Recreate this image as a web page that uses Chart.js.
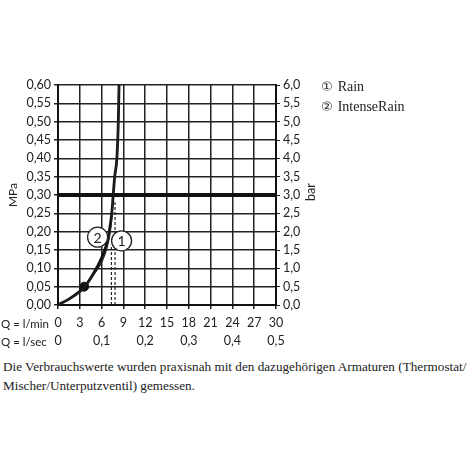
<!DOCTYPE html>
<html lang="de">
<head>
<meta charset="UTF-8">
<title>Durchfluss Diagramm</title>
<script src="https://cdn.jsdelivr.net/npm/chart.js"></script>
<style>
    body { margin: 0; background: #fff; width: 470px; height: 470px; position: relative; overflow: hidden; }
    #wrap { position: absolute; left: 0; top: 0; width: 470px; height: 355px; }
    .legend { position: absolute; left: 321px; font-family: "Liberation Serif", serif; font-size: 14px; color: #222; }
    .legend .num { font-family: "DejaVu Sans", sans-serif; font-size: 13px; margin-right: 5px; }
    #note { position: absolute; left: 3px; top: 357px; width: 468px; font-family: "Liberation Serif", serif; font-size: 13.2px; line-height: 19px; color: #222; }
</style>
</head>
<body>
<div id="wrap"><canvas id="chart" width="470" height="355"></canvas></div>
<div class="legend" style="top:79px"><span class="num">①</span>Rain</div>
<div class="legend" style="top:99px"><span class="num">②</span>IntenseRain</div>
<div id="note">Die Verbrauchswerte wurden praxisnah mit den dazugehörigen Armaturen (Thermostat/<br>Mischer/Unterputzventil) gemessen.</div>

<script>
// flow in l/min, pressure in MPa
const rainQ = [0, 1.5, 3, 3.7, 5, 6.1, 6.8, 7.2, 7.45, 7.6, 7.8, 8.1, 8.3, 8.4];
const rainP = [0, 0.015, 0.035, 0.05, 0.085, 0.12, 0.16, 0.2, 0.25, 0.3, 0.35, 0.4, 0.5, 0.6];
const intenseQ = [0, 1.5, 3, 3.7, 5, 5.8, 6.6, 7.05, 7.4, 7.6, 7.8, 8.1, 8.3, 8.4];
const intenseP = [0, 0.016, 0.037, 0.05, 0.09, 0.12, 0.16, 0.2, 0.25, 0.3, 0.35, 0.4, 0.5, 0.6];
const refPressure = 0.30;
const markQ = 3.6, markP = 0.05;
const dashRainQ = 7.85, dashRainTop = 0.28;
const dashIntenseQ = 7.35, dashIntenseTop = 0.16;
const xTicksMin = [0, 3, 6, 9, 12, 15, 18, 21, 24, 27, 30];
const xTicksSec = ['0', '', '0,1', '', '0,2', '', '0,3', '', '0,4', '', '0,5'];
const labels = [
    { text: '2', q: 5.45, p: 0.185 },
    { text: '1', q: 8.75, p: 0.175 }
];

const FONT = 'Lato, "Open Sans", sans-serif';
const toPts = (xs, ys) => xs.map((x, i) => ({ x: x, y: ys[i] }));

// extras: row titles, bar title, circled curve labels
const extras = {
    id: 'extras',
    afterDraw(chart) {
        const ctx = chart.ctx;
        const xs = chart.scales.x, ys = chart.scales.y;
        ctx.save();
        ctx.fillStyle = '#222';
        ctx.font = '11.5px ' + FONT;
        ctx.textAlign = 'left';
        ctx.textBaseline = 'middle';
        ctx.fillText('Q = l/min', 1, 324);
        ctx.fillText('Q = l/sec', 1, 342);

        ctx.save();
        ctx.font = '12.5px ' + FONT;
        ctx.translate(311, 192);
        ctx.rotate(-Math.PI / 2);
        ctx.textAlign = 'center';
        ctx.fillText('bar', 0, 0);
        ctx.restore();

        labels.forEach(l => {
            const cx = xs.getPixelForValue(l.q), cy = ys.getPixelForValue(l.p);
            ctx.beginPath();
            ctx.arc(cx, cy, 10, 0, Math.PI * 2);
            ctx.fillStyle = '#fff';
            ctx.fill();
            ctx.lineWidth = 1.3;
            ctx.strokeStyle = '#222';
            ctx.stroke();
            ctx.fillStyle = '#222';
            ctx.textAlign = 'center';
            ctx.font = '14px ' + FONT;
            ctx.fillText(l.text, cx, cy + 1);
        });
        ctx.restore();
    }
};

const ctx = document.getElementById('chart').getContext('2d');
new Chart(ctx, {
    type: 'line',
    data: {
        datasets: [
            { label: 'dashRain', data: [{ x: dashRainQ, y: 0 }, { x: dashRainQ, y: dashRainTop }], borderColor: '#222', borderWidth: 1.2, borderDash: [3, 2], pointRadius: 0 },
            { label: 'dashIntense', data: [{ x: dashIntenseQ, y: 0 }, { x: dashIntenseQ, y: dashIntenseTop }], borderColor: '#222', borderWidth: 1.2, borderDash: [3, 2], pointRadius: 0 },
            { label: 'ref', data: [{ x: 0, y: refPressure }, { x: 30, y: refPressure }], borderColor: '#111', borderWidth: 4, pointRadius: 0 },
            { label: 'Rain', data: toPts(rainQ, rainP), borderColor: '#222', borderWidth: 1.3, pointRadius: 0, tension: 0.4, cubicInterpolationMode: 'monotone' },
            { label: 'IntenseRain', data: toPts(intenseQ, intenseP), borderColor: '#111', borderWidth: 2.8, pointRadius: 0, tension: 0.4, cubicInterpolationMode: 'monotone' },
            { label: 'mark', data: [{ x: markQ, y: markP }], pointRadius: 4.5, pointBackgroundColor: '#111', borderColor: '#111', showLine: false }
        ]
    },
    options: {
        responsive: false,
        animation: false,
        layout: { padding: { left: 0, right: 149, top: 85, bottom: 0 } },
        plugins: { legend: { display: false }, tooltip: { enabled: false } },
        scales: {
            x: {
                type: 'linear', min: 0, max: 30,
                afterBuildTicks: s => { s.ticks = xTicksMin.map(v => ({ value: v })); },
                ticks: {
                    color: '#222', font: { family: FONT, size: 12.5, lineHeight: 1.45 }, padding: 5, maxRotation: 0, autoSkip: false,
                    callback: (v, i) => [String(v), xTicksSec[i]]
                },
                grid: { color: '#222', lineWidth: 1.5, tickLength: 4, tickColor: '#222' },
                border: { color: '#111', width: 2 },
                afterFit: s => { s.height = 50; }
            },
            y: {
                position: 'left', min: 0, max: 0.6,
                ticks: { stepSize: 0.05, color: '#222', font: { family: FONT, size: 12.5 }, padding: 3,
                    callback: v => v.toFixed(2).replace('.', ',') },
                grid: { color: '#222', lineWidth: 1.5, tickLength: 4, tickColor: '#222' },
                border: { color: '#111', width: 2 },
                title: { display: true, text: 'MPa', color: '#222', font: { family: FONT, size: 12 }, padding: { top: 6, bottom: 0 } },
                afterFit: s => { s.width = 58; }
            },
            y1: {
                position: 'right', min: 0, max: 6,
                ticks: { stepSize: 0.5, color: '#222', font: { family: FONT, size: 12.5 }, padding: 3,
                    callback: v => v.toFixed(1).replace('.', ',') },
                grid: { drawOnChartArea: false, tickLength: 4, tickColor: '#222' },
                border: { color: '#111', width: 2 },
                afterFit: s => { s.width = 45; }
            }
        }
    },
    plugins: [extras]
});
</script>
</body>
</html>
